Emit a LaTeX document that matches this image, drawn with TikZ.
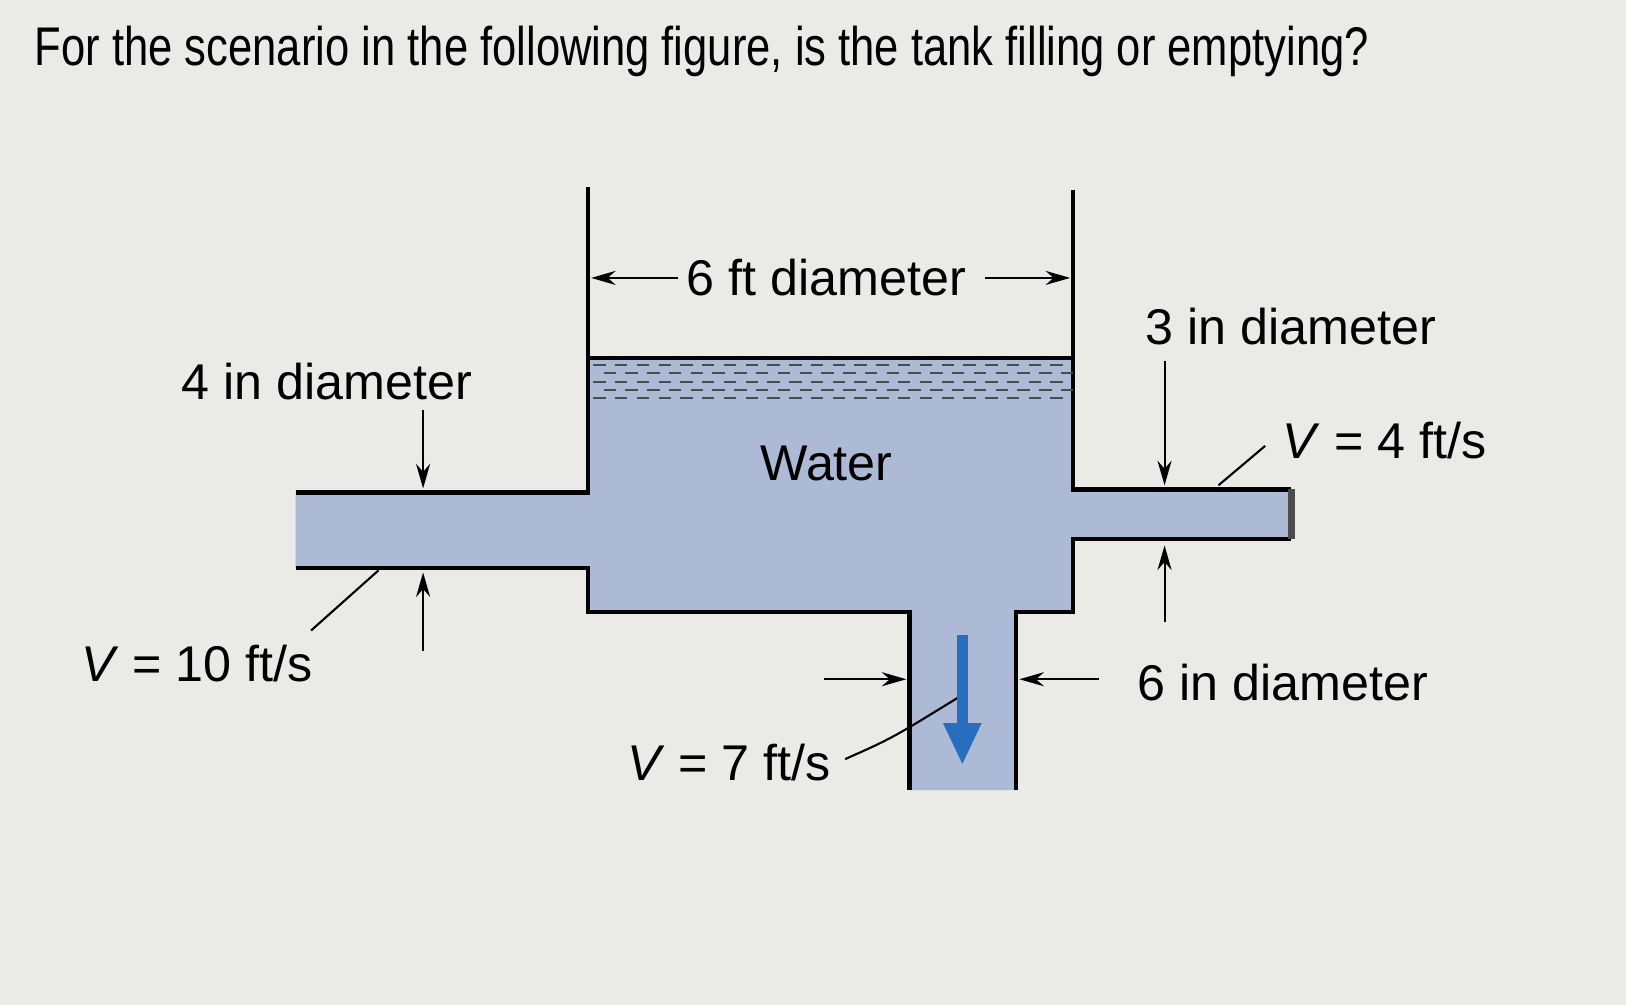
\documentclass[tikz,border=0pt]{standalone}
\usepackage{fontspec}
\setmainfont{Liberation Sans}
\usetikzlibrary{positioning, arrows.meta}
\definecolor{bg}{RGB}{234,234,230}
\definecolor{water}{RGB}{172,186,214}
\definecolor{flow}{RGB}{40,110,190}
\tikzset{
    lbl/.style={font=\fontsize{14.3}{16}\selectfont, inner sep=0pt},
    dim/.style={-{Stealth[length=7pt,width=4pt]}, line width=0.6pt},
    lead/.style={line width=0.6pt}
}
\begin{document}
\begin{tikzpicture}[x=0.01037cm, y=-0.01037cm]
        % Background
        \fill[bg] (0,0) rectangle (1568,969);
        \useasboundingbox (0,0) rectangle (1568,969);

        % Title
        \node[lbl, anchor=west, font=\fontsize{15.5}{17}\selectfont] (title) at (33,50)
            {\scalebox{0.8}[1]{For the scenario in the following figure, is the tank filling or emptying?}};

        % Water and pipes
        \fill[water] (285,475) -- (567,475) -- (567,345) -- (1035,345) -- (1035,472)
            -- (1245,472) -- (1245,520) -- (1035,520) -- (1035,590) -- (980,590)
            -- (980,762) -- (877,762) -- (877,590) -- (567,590) -- (567,548) -- (285,548) -- cycle;

        % Outline
        \draw[line width=1.2pt] (285,475) -- (567,475) -- (567,180);
        \draw[line width=1.2pt] (1035,183) -- (1035,472) -- (1245,472);
        \draw[line width=1.2pt] (285,548) -- (567,548) -- (567,590) -- (877,590) -- (877,762);
        \draw[line width=1.2pt] (980,762) -- (980,590) -- (1035,590) -- (1035,520) -- (1245,520);
        \draw[line width=2pt, gray!60!black] (1245,472) -- (1245,520);
        \draw[line width=1pt] (567,345) -- (1035,345);

        % Surface dashes
        \foreach \r in {0,...,4} {
            \foreach \c in {0,...,21} {
                \pgfmathsetmacro{\xa}{572+\c*21+mod(\r,2)*10}
                \draw[line width=0.6pt, black!70] (\xa,352+\r*8) -- ++(12,0);
            }
        }

        % Labels
        \node[lbl] (top) at (797,268) {6 ft diameter};
        \node[lbl] (water) at (797,447) {Water};
        \node[lbl] (rin) at (1245,315) {3 in diameter};
        \node[lbl] (rv) at (1335,425) {\textit{V} = 4 ft/s};
        \node[lbl] (lin) at (315,368) {4 in diameter};
        \node[lbl] (lv) at (190,640) {\textit{V} = 10 ft/s};
        \node[lbl] (bin) at (1237,658) {6 in diameter};
        \node[lbl] (bv) at (703,735) {\textit{V} = 7 ft/s};

        % Dimension arrows
        \draw[dim] (top.west) ++(-8,0) -- (570,268);
        \draw[dim] (top.east) ++(18,0) -- (1032,268);
        \draw[dim] (1123,348) -- (1123,468);
        \draw[dim] (1123,600) -- (1123,526);
        \draw[dim] (408,395) -- (408,471);
        \draw[dim] (408,628) -- (408,552);
        \draw[dim] (1060,655) -- (983,655);
        \draw[dim] (795,655) -- (874,655);

        % Leaders
        \draw[lead] (1175,468) -- (1220,430);
        \draw[lead] (300,608) -- (365,550);
        \draw[lead] (815,732) .. controls (860,712) .. (925,672);

        % Outflow
        \draw[flow, line width=3pt, -{Triangle[length=12pt,width=10pt]}] (928,612) -- (928,738);
    \end{tikzpicture}
\end{document}
